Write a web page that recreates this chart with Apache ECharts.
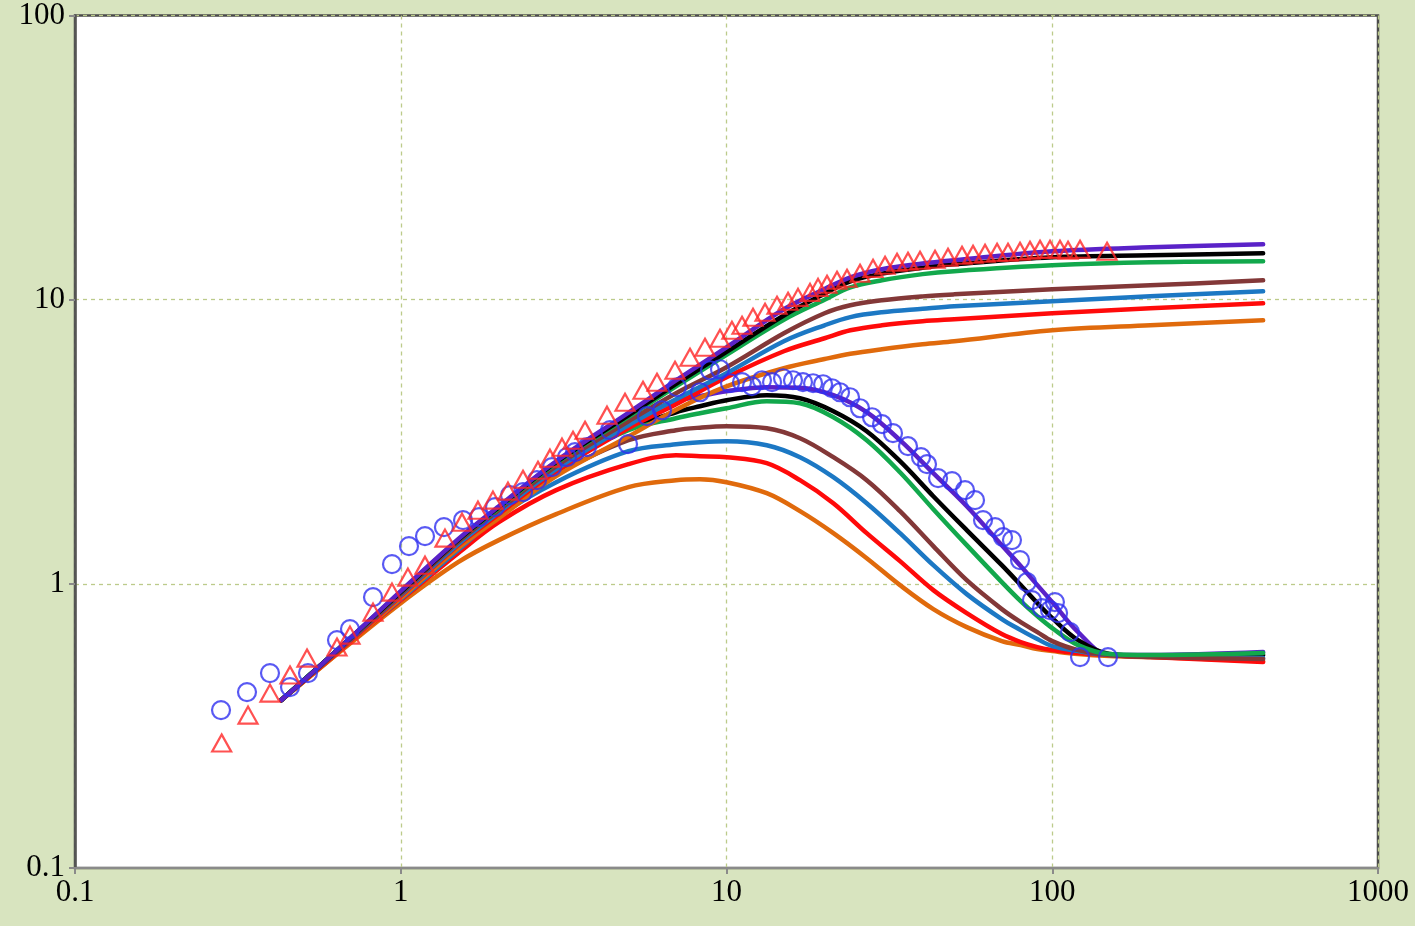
<!DOCTYPE html>
<html>
<head>
<meta charset="utf-8">
<script src="https://cdn.jsdelivr.net/npm/echarts@6/dist/echarts.min.js"></script>
<style>
html,body{margin:0;padding:0;background:#d8e4bf;}
#chart{width:1415px;height:926px;}
</style>
</head>
<body>
<div id="chart"></div>
<script>
// ---- data ----
const xTickLabels = ['0.1', '1', '10', '100', '1000'];
const yTickLabels = ['0.1', '1', '10', '100'];

// pressure-type curves (upper family)
const xP = [0.43, 0.6, 1, 1.5, 2, 3, 5, 7, 10, 15, 20, 24, 30, 40, 50, 100, 200, 444];
const purpleP = [0.39, 0.548, 0.943, 1.436, 1.876, 2.701, 4.0, 5.2, 6.8, 9.25, 10.9, 11.99, 12.8, 13.4, 13.76, 14.80, 15.29, 15.66];
const blackP  = [0.39, 0.548, 0.935, 1.425, 1.861, 2.679, 3.92, 5.05, 6.55, 8.8, 10.5, 11.6, 12.35, 12.95, 13.32, 14.10, 14.33, 14.56];
const greenP  = [0.39, 0.548, 0.935, 1.425, 1.846, 2.658, 3.87, 4.95, 6.4, 8.5, 10.0, 11.05, 11.7, 12.3, 12.6, 13.21, 13.54, 13.65];
const brownP  = [0.39, 0.5435, 0.92, 1.402, 1.816, 2.594, 3.734, 4.686, 5.784, 7.617, 8.957, 9.555, 9.95, 10.27, 10.44, 10.88, 11.23, 11.70];
const blueP   = [0.39, 0.5435, 0.9125, 1.379, 1.787, 2.532, 3.615, 4.462, 5.509, 7.139, 8.126, 8.684, 9.03, 9.288, 9.478, 9.87, 10.28, 10.70];
const redP    = [0.39, 0.539, 0.905, 1.368, 1.759, 2.491, 3.528, 4.285, 5.333, 6.584, 7.315, 7.803, 8.126, 8.394, 8.531, 8.957, 9.326, 9.711];
const orangeP = [0.39, 0.535, 0.891, 1.335, 1.702, 2.392, 3.30, 4.10, 4.95, 5.738, 6.18, 6.45, 6.691, 6.966, 7.139, 7.803, 8.126, 8.462];

// derivative-type curves (lower family)
const xD = [0.43, 0.6, 1, 1.5, 2, 3, 5, 7, 8.29, 10, 13.29, 16.81, 21.28, 26.94, 34.09, 43.14, 54.63, 70, 80, 90, 100, 120, 150, 200, 444];
const purpleD = [0.39, 0.548, 0.935, 1.425, 1.846, 2.679, 3.764, 4.391, 4.572, 4.761, 4.919, 4.898, 4.610, 4.017, 3.202, 2.451, 1.876, 1.368, 1.155, 0.9895, 0.8623, 0.6764, 0.5614, 0.5614, 0.5753];
const blackD  = [0.39, 0.548, 0.9275, 1.413, 1.831, 2.658, 3.528, 4.017, 4.217, 4.427, 4.610, 4.499, 4.050, 3.444, 2.701, 2.034, 1.545, 1.163, 0.9895, 0.8552, 0.7574, 0.6339, 0.566, 0.5569, 0.5614];
const greenD  = [0.39, 0.548, 0.9275, 1.402, 1.831, 2.594, 3.472, 3.826, 3.985, 4.149, 4.391, 4.320, 3.857, 3.202, 2.471, 1.831, 1.368, 1.014, 0.8693, 0.77, 0.6986, 0.6088, 0.566, 0.5614, 0.5706];
const brownD  = [0.39, 0.5435, 0.8978, 1.346, 1.80, 2.431, 3.202, 3.472, 3.545, 3.586, 3.528, 3.254, 2.790, 2.316, 1.802, 1.357, 1.030, 0.8148, 0.7333, 0.6764, 0.6289, 0.5847, 0.5614, 0.5524, 0.5435];
const blueD   = [0.39, 0.5435, 0.8835, 1.314, 1.730, 2.279, 2.929, 3.100, 3.151, 3.177, 3.075, 2.790, 2.373, 1.922, 1.508, 1.163, 0.92, 0.7514, 0.6874, 0.6392, 0.6039, 0.58, 0.5614, 0.5569, 0.5479];
const redD    = [0.39, 0.539, 0.8764, 1.282, 1.648, 2.136, 2.636, 2.836, 2.813, 2.79, 2.658, 2.316, 1.922, 1.508, 1.202, 0.9502, 0.7888, 0.6655, 0.6238, 0.599, 0.5847, 0.5706, 0.5614, 0.5524, 0.5304];
const orangeD = [0.39, 0.5347, 0.8552, 1.192, 1.425, 1.759, 2.189, 2.316, 2.334, 2.279, 2.084, 1.802, 1.508, 1.231, 0.9895, 0.8148, 0.7041, 0.6289, 0.6088, 0.5894, 0.58, 0.566, 0.5569, 0.5524, 0.5347];

// measured points: triangles (pressure) and circles (derivative)
const triX = [0.282, 0.3398, 0.3968, 0.4571, 0.5155, 0.6372, 0.6985, 0.822, 0.94, 1.052, 1.187, 1.367, 1.542, 1.726, 1.919, 2.134, 2.373, 2.638, 2.871, 3.126, 3.379, 3.679, 4.297, 4.88, 5.542, 6.118, 6.949, 7.726, 8.59, 9.55, 10.39, 11.16, 12.06, 13.13, 14.29, 15.45, 16.58, 18.05, 19.1, 20.35, 21.84, 23.44, 25.7, 28.17, 30.67, 33.38, 36.07, 39.27, 43.66, 47.86, 52.84, 57.12, 62.18, 67.7, 73.14, 79.62, 85.43, 91.71, 98.42, 105.6, 111.8, 121.7, 147.3];
const triY = [0.2752, 0.3452, 0.4125, 0.4775, 0.5479, 0.599, 0.6601, 0.7953, 0.935, 1.056, 1.163, 1.448, 1.648, 1.816, 1.97, 2.119, 2.334, 2.511, 2.768, 3.026, 3.202, 3.472, 3.922, 4.355, 4.8, 5.123, 5.644, 6.272, 6.8, 7.315, 7.803, 8.126, 8.67, 9.03, 9.555, 9.87, 10.19, 10.61, 11.05, 11.33, 11.7, 11.89, 12.38, 12.89, 13.21, 13.54, 13.65, 13.76, 13.87, 14.1, 14.33, 14.44, 14.56, 14.68, 14.68, 14.8, 14.92, 15.04, 15.04, 15.04, 14.92, 15.04, 14.8];
const cirX = [0.2807, 0.3373, 0.3968, 0.4571, 0.5191, 0.6372, 0.6985, 0.822, 0.94, 1.06, 1.187, 1.357, 1.553, 1.739, 1.947, 2.165, 2.373, 2.619, 2.912, 3.238, 3.426, 3.731, 4.389, 4.985, 5.7, 6.339, 7.047, 8.292, 8.899, 9.55, 10.25, 11.16, 11.97, 12.85, 13.8, 14.91, 16.0, 17.17, 18.44, 19.79, 21.08, 22.31, 23.94, 25.7, 27.97, 30.02, 32.44, 36.07, 39.55, 41.26, 44.61, 49.24, 53.98, 57.93, 61.3, 66.74, 70.62, 75.22, 79.62, 83.64, 86.64, 93.0, 98.42, 101.9, 104.2, 113.4, 121.7, 148.3];
const cirY = [0.3595, 0.4159, 0.4853, 0.4331, 0.4853, 0.6339, 0.6929, 0.8978, 1.173, 1.357, 1.471, 1.583, 1.675, 1.717, 1.861, 2.051, 2.101, 2.316, 2.573, 2.79, 2.906, 3.026, 3.472, 3.1, 3.889, 4.082, 4.919, 4.723, 5.644, 5.69, 5.081, 5.123, 4.959, 5.206, 5.123, 5.29, 5.206, 5.123, 5.081, 5.04, 4.879, 4.723, 4.535, 4.149, 3.857, 3.645, 3.389, 3.05, 2.79, 2.636, 2.354, 2.297, 2.136, 1.97, 1.675, 1.583, 1.459, 1.425, 1.212, 1.014, 0.8764, 0.8213, 0.8083, 0.8623, 0.7888, 0.6764, 0.5524, 0.5524];

const COLORS = {purple:'#5a22c8', black:'#000000', green:'#12a84c', brown:'#833838', blue:'#1c78c4', red:'#ff0a0a', orange:'#e06a0c'};

function pairs(xs, ys){ return xs.map((x,i)=>[x, ys[i]]); }
function lineSeries(name, xs, ys, color, z){
  return {name, type:'line', data:pairs(xs, ys), showSymbol:false, smooth:0.35,
          lineStyle:{color, width:4.5, cap:'round', join:'round'}, itemStyle:{color}, z:z, silent:true};
}

const series = [
  lineSeries('purpleD', xD, purpleD, COLORS.purple, 2),
  lineSeries('blackD', xD, blackD, COLORS.black, 2),
  lineSeries('orangeD', xD, orangeD, COLORS.orange, 2),
  lineSeries('redD', xD, redD, COLORS.red, 2),
  lineSeries('blueD', xD, blueD, COLORS.blue, 2),
  lineSeries('brownD', xD, brownD, COLORS.brown, 2),
  lineSeries('greenD', xD, greenD, COLORS.green, 2),
  lineSeries('orangeP', xP, orangeP, COLORS.orange, 3),
  lineSeries('redP', xP, redP, COLORS.red, 3),
  lineSeries('blueP', xP, blueP, COLORS.blue, 3),
  lineSeries('brownP', xP, brownP, COLORS.brown, 3),
  lineSeries('greenP', xP, greenP, COLORS.green, 3),
  lineSeries('blackP', xP, blackP, COLORS.black, 3),
  lineSeries('purpleP', xP, purpleP, COLORS.purple, 3),
  {name:'circles', type:'scatter', data:pairs(cirX, cirY), symbol:'circle', symbolSize:18, z:5,
   itemStyle:{color:'rgba(0,0,0,0)', borderColor:'#2f2ff0', borderWidth:2.2}},
  {name:'triangles', type:'scatter', data:pairs(triX, triY), symbol:'triangle', symbolSize:[19,17], z:6,
   itemStyle:{color:'rgba(0,0,0,0)', borderColor:'#ff2626', borderWidth:2.2}}
];

const labelFont = {fontFamily:"'Liberation Serif', 'Times New Roman', serif", fontSize:31, color:'#000'};

const chart = echarts.init(document.getElementById('chart'), null, {renderer:'canvas'});
chart.setOption({
  animation:false,
  backgroundColor:'#d8e4bf',
  grid:{left:75, right:37, top:15, bottom:58, show:true, backgroundColor:'#ffffff', borderColor:'#4a4a4a', borderWidth:2.5},
  xAxis:{type:'log', logBase:10, min:0.1, max:1000,
    axisLine:{show:true, onZero:false, lineStyle:{color:'#8a8a8a', width:2}},
    axisTick:{show:true, length:6, lineStyle:{color:'#8a8a8a', width:2}},
    axisLabel:Object.assign({margin:9, formatter:(v)=>{const i=Math.round(Math.log10(v))+1; return xTickLabels[i]!==undefined?xTickLabels[i]:String(v);}}, labelFont),
    splitLine:{show:true, lineStyle:{color:'#bccb8a', type:[4,4], width:1.3}},
    minorTick:{show:false}, minorSplitLine:{show:false}},
  yAxis:{type:'log', logBase:10, min:0.1, max:100,
    axisLine:{show:true, onZero:false, lineStyle:{color:'#555555', width:2.5}},
    axisTick:{show:true, length:6, lineStyle:{color:'#8a8a8a', width:2}},
    axisLabel:Object.assign({margin:10, formatter:(v)=>{const i=Math.round(Math.log10(v))+1; return yTickLabels[i]!==undefined?yTickLabels[i]:String(v);}}, labelFont),
    splitLine:{show:true, lineStyle:{color:'#bccb8a', type:[4,4], width:1.3}},
    minorTick:{show:false}, minorSplitLine:{show:false}},
  series
});
</script>
</body>
</html>
